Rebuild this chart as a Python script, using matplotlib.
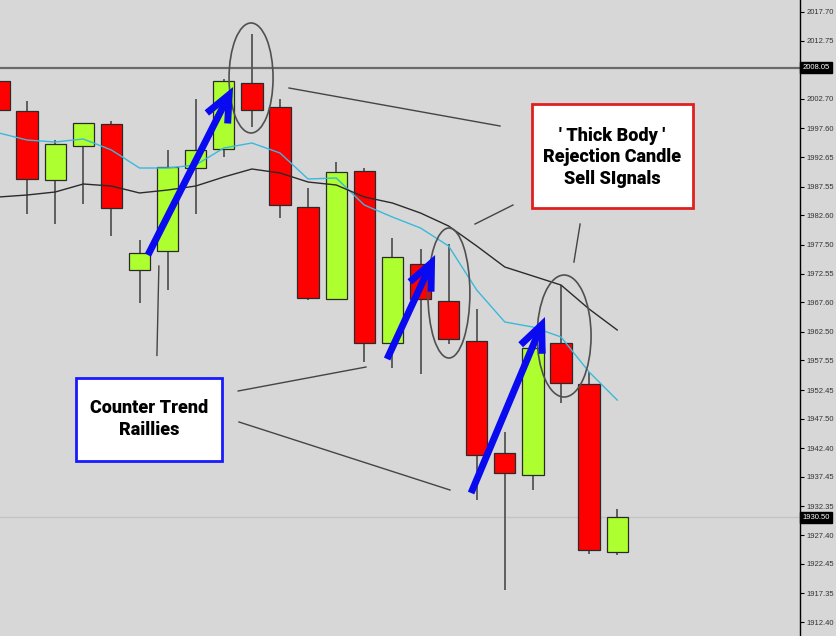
import matplotlib
matplotlib.use("Agg")
import matplotlib.pyplot as plt
from matplotlib.patches import Ellipse, Rectangle

# OHLC (one per bar, left to right)
opens = [2005.79, 2000.61, 1988.70, 1994.57, 1998.37, 1973.16, 1976.44, 1990.77,
         1994.05, 2005.44, 2001.30, 1984.04, 1968.16, 1990.25, 1960.56, 1974.20,
         1967.81, 1960.91, 1941.57, 1937.78, 1960.56, 1953.49, 1924.49]
highs = [2005.79, 2002.34, 1995.60, 1998.54, 1998.88, 1978.34, 1993.88, 2002.68,
         2006.13, 2013.90, 2002.68, 1987.32, 1991.81, 1990.77, 1978.69, 1976.79,
         1977.65, 1966.43, 1945.20, 1960.39, 1970.57, 1955.56, 1931.91]
lows = [2000.78, 1982.83, 1981.10, 1984.56, 1979.03, 1967.47, 1969.71, 1982.83,
        1992.67, 1997.85, 1982.14, 1967.99, 1967.99, 1957.28, 1956.25, 1955.21,
        1960.39, 1933.46, 1917.93, 1935.19, 1950.21, 1924.14, 1923.97]
closes = [2000.78, 1988.87, 1994.91, 1998.54, 1983.87, 1976.10, 1990.94, 1993.88,
          2005.79, 2000.78, 1984.38, 1968.33, 1990.08, 1960.56, 1975.41, 1968.16,
          1961.25, 1941.23, 1938.12, 1959.70, 1953.66, 1924.83, 1930.53]

ma_fast = [1996.81, 1995.60, 1995.26, 1995.78, 1993.88, 1990.77, 1990.77, 1991.29,
           1994.22, 1995.09, 1993.36, 1988.87, 1989.05, 1984.38, 1982.31, 1980.41,
           1977.31, 1969.71, 1964.19, 1963.32, 1961.60, 1955.56, 1950.72]
ma_slow = [1985.77, 1986.11, 1986.63, 1988.01, 1987.66, 1986.46, 1986.97, 1987.66,
           1989.22, 1990.60, 1989.91, 1988.35, 1987.84, 1985.77, 1984.73, 1983.00,
           1980.76, 1977.31, 1973.68, 1972.13, 1970.57, 1966.43, 1962.81]

price_ticks = [2017.70, 2012.75, 2002.70, 1997.60, 1992.65, 1987.55, 1982.60,
               1977.50, 1972.55, 1967.60, 1962.50, 1957.55, 1952.45, 1947.50,
               1942.40, 1937.45, 1932.35, 1927.40, 1922.45, 1917.35, 1912.40]
level_high = 2008.05
level_last = 1930.50

bg = '#d7d7d7'
fig = plt.figure(figsize=(8.37, 6.36), dpi=100, facecolor=bg)
ax = fig.add_axes([0, 0, 800 / 837, 1], facecolor=bg)

x = list(range(len(opens)))
up_col = '#adff2f'
dn_col = '#ff0000'

# wicks then bodies
ax.vlines(x, lows, highs, color='#555555', lw=1.3, zorder=2)
for i in x:
    o, c = opens[i], closes[i]
    col = up_col if c >= o else dn_col
    ax.bar(i, abs(c - o), bottom=min(o, c), width=0.76, color=col,
           edgecolor='#2a2a2a', linewidth=0.9, zorder=3)

# moving averages
ax.plot(x, ma_fast, color='#3ab8dc', lw=1.0, zorder=4)
ax.plot(x, ma_slow, color='#2b2b2b', lw=1.0, zorder=4)

# horizontal levels
ax.axhline(level_high, color='#6a6a6a', lw=1.6, zorder=1)
ax.axhline(level_last, color='#c4c4c4', lw=1.0, zorder=1)

ax.set_xlim(0.0356, 28.505)
ax.set_ylim(1909.99, 2019.77)

# right price axis
for s in ['top', 'left', 'bottom']:
    ax.spines[s].set_visible(False)
ax.spines['right'].set_color('black')
ax.spines['right'].set_linewidth(1.0)
ax.set_xticks([])
ax.yaxis.tick_right()
ax.set_yticks(price_ticks)
ax.set_yticklabels(['%.2f' % v for v in price_ticks])
ax.tick_params(axis='y', direction='out', length=3, width=0.8, pad=1.5,
               labelsize=5.5, labelcolor='#333333', colors='black')
for lab in ax.get_yticklabels():
    lab.set_family('Liberation Sans')
    lab.set_color('#333333')

trans = ax.get_yaxis_transform()
for lv in [level_high, level_last]:
    ax.text(1.003, lv, '%.2f' % lv, transform=trans, ha='left', va='center',
            fontsize=5.5, family='Liberation Sans', color='white', clip_on=False,
            bbox=dict(boxstyle='square,pad=0.25', fc='black', ec='black'))

# ellipses around rejection candles
for cx, cy, w, h in [(8.97, 2006.31, 1.566, 18.99),
                     (16.01, 1969.19, 1.495, 22.44),
                     (20.11, 1961.77, 1.92, 21.06)]:
    ax.add_patch(Ellipse((cx, cy), w, h, fill=False, ec='#505050', lw=1.2, zorder=5))

# blue arrows
for (x0, y0), (x1, y1) in [((5.30, 1975.75), (8.33, 2004.75)),
                           ((13.81, 1957.80), (15.52, 1975.75)),
                           ((16.80, 1934.67), (19.43, 1965.05))]:
    ax.annotate('', xy=(x1, y1), xytext=(x0, y0),
                arrowprops=dict(arrowstyle='->,head_length=0.95,head_width=0.42',
                                color='#0a0af0', lw=5, mutation_scale=20,
                                shrinkA=0, shrinkB=0, joinstyle='miter',
                                capstyle='butt'),
                zorder=6)

# pointer lines
for (x0, y0), (x1, y1) in [((5.69, 1973.85), (5.62, 1958.42)),
                           ((8.51, 1952.28), (13.06, 1956.42)),
                           ((8.54, 1946.93), (16.05, 1935.19)),
                           ((10.32, 2004.58), (17.83, 1998.02)),
                           ((16.94, 1981.10), (18.29, 1984.38)),
                           ((20.46, 1974.54), (20.68, 1981.10))]:
    ax.plot([x0, x1], [y0, y1], color='#444444', lw=1.0, zorder=5)

# label boxes
box_font = ['Roboto', 'DejaVu Sans']
ax.add_patch(Rectangle((0.095, 0.2752), 0.1825, 0.1305, transform=ax.transAxes,
                       fc='white', ec='#1a1aff', lw=2, zorder=7))
ax.text(0.18625, 0.3412, 'Counter Trend\nRaillies', transform=ax.transAxes,
        ha='center', va='center', fontsize=13, fontweight='black',
        family=box_font, linespacing=1.25, zorder=8)

ax.add_patch(Rectangle((0.665, 0.673), 0.201, 0.1635, transform=ax.transAxes,
                       fc='white', ec='#e02020', lw=2, zorder=7))
ax.text(0.765, 0.753, "' Thick Body '\nRejection Candle\nSell SIgnals",
        transform=ax.transAxes, ha='center', va='center', fontsize=13,
        fontweight='black', family=box_font, linespacing=1.25, zorder=8)

fig.savefig('out.png', dpi=100, facecolor=bg)
